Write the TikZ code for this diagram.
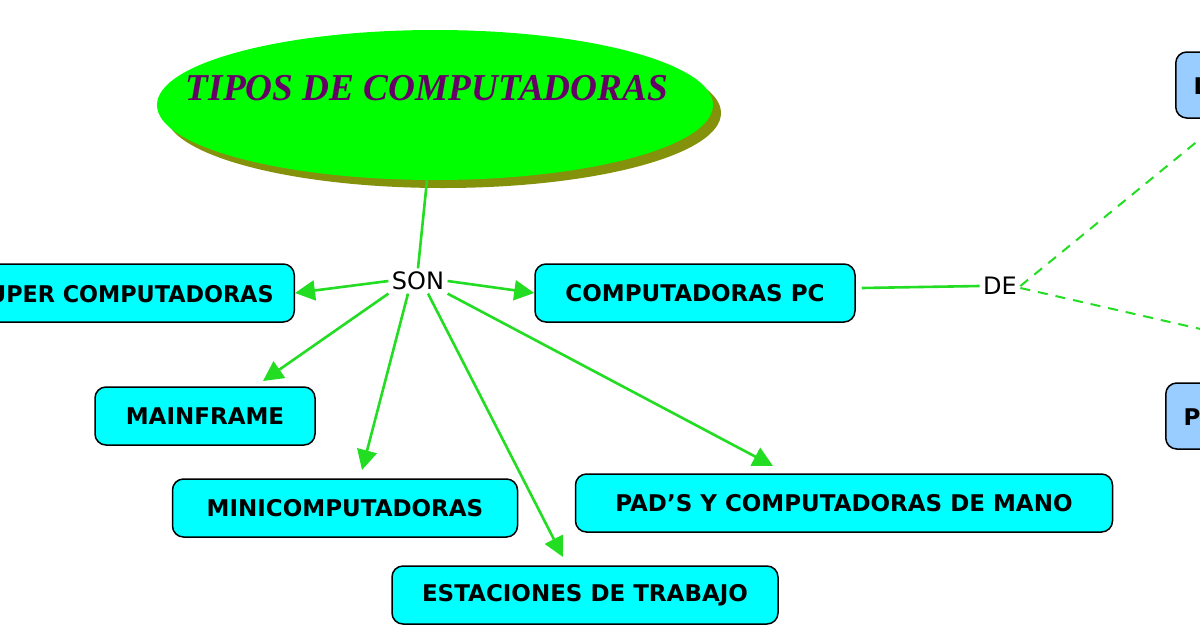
\documentclass[tikz,border=0pt]{standalone}
\usepackage{fontspec}
\setmainfont{DejaVu Sans}
\newfontfamily\titlefont{Liberation Serif}
\usetikzlibrary{shapes.geometric,arrows.meta}
\definecolor{boxc}{HTML}{00FFFF}
\definecolor{boxb}{HTML}{99CCFF}
\definecolor{lgreen}{HTML}{00FF00}
\definecolor{lnc}{HTML}{22DD22}
\tikzset{
 cbox/.style={draw=black,line width=1.5pt,rounded corners=11pt,fill=boxc,minimum height=58pt},
 bbox/.style={draw=black,line width=1.5pt,rounded corners=11pt,fill=boxb,minimum height=66pt},
 txt/.style={font=\bfseries\fontsize{23}{23}\selectfont},
 lbl/.style={font=\fontsize{24}{24}\selectfont},
 arr/.style={draw=lnc,line width=2.6pt,-{Triangle[length=20pt,width=20pt]}},
 ln/.style={draw=lnc,line width=2.6pt},
 dln/.style={draw=lnc,line width=2pt,dash pattern=on 10pt off 8pt},
}
\begin{document}
\begin{tikzpicture}[x=1pt,y=-1pt]
\useasboundingbox (0,0) rectangle (1200,630);
\clip (0,0) rectangle (1200,630);
\fill[white] (0,0) rectangle (1200,630);
\fill[olive!80!lgreen] (443,113) ellipse (278 and 75);
\node[ellipse,fill=lgreen,minimum width=556pt,minimum height=150pt] (t) at (435,105) {};
\node[font=\titlefont\bfseries\itshape\fontsize{38}{38}\selectfont,text=violet!80!black,xscale=0.98] at (427,88) {TIPOS DE COMPUTADORAS};
\node[lbl] (son) at (418,281) {SON};
\node[lbl] (de) at (1000,286) {DE};
\node[cbox,anchor=east,minimum width=380pt] (sup) at (295,293) {};
\node[txt,anchor=east,xscale=0.97] at (277,294) {SUPER COMPUTADORAS};
\node[cbox,minimum width=220pt,txt] (mf) at (205,416) {MAINFRAME};
\node[cbox,minimum width=345pt,txt] (mini) at (345,508) {MINICOMPUTADORAS};
\node[cbox,minimum width=386pt,txt] (est) at (585,595) {ESTACIONES DE TRABAJO};
\node[cbox,minimum width=537pt,txt] (pad) at (844,503) {PAD'S Y COMPUTADORAS DE MANO};
\node[cbox,minimum width=320pt,txt] (pc) at (695,293) {COMPUTADORAS PC};
\node[bbox,anchor=west,minimum width=200pt] (lap) at (1175,85) {};
\node[txt,anchor=west] at (1190,86) {LAPTOP};
\node[bbox,anchor=west,minimum width=200pt] (por) at (1165,416) {};
\node[txt,anchor=west] at (1180,415) {PORTÁTILES};
\draw[ln] (t.south) ++(-8,0) -- (son.north);
\draw[arr] (son.west) -- (sup.east);
\draw[arr] (son.east) -- (pc.west);
\draw[arr] (son.south west) -- (263,381);
\draw[arr] (son.south) ++(-10,0) -- (362,470);
\draw[arr] (son.south) ++(10,0) -- (563,557);
\draw[arr] (son.south east) -- (773,466);
\draw[ln] (pc.east) ++(6,-5) -- (de.west);
\draw[dln] (de.east) -- (1205,135);
\draw[dln] (de.east) ++(0,2) -- (1205,330);
\end{tikzpicture}
\end{document}
